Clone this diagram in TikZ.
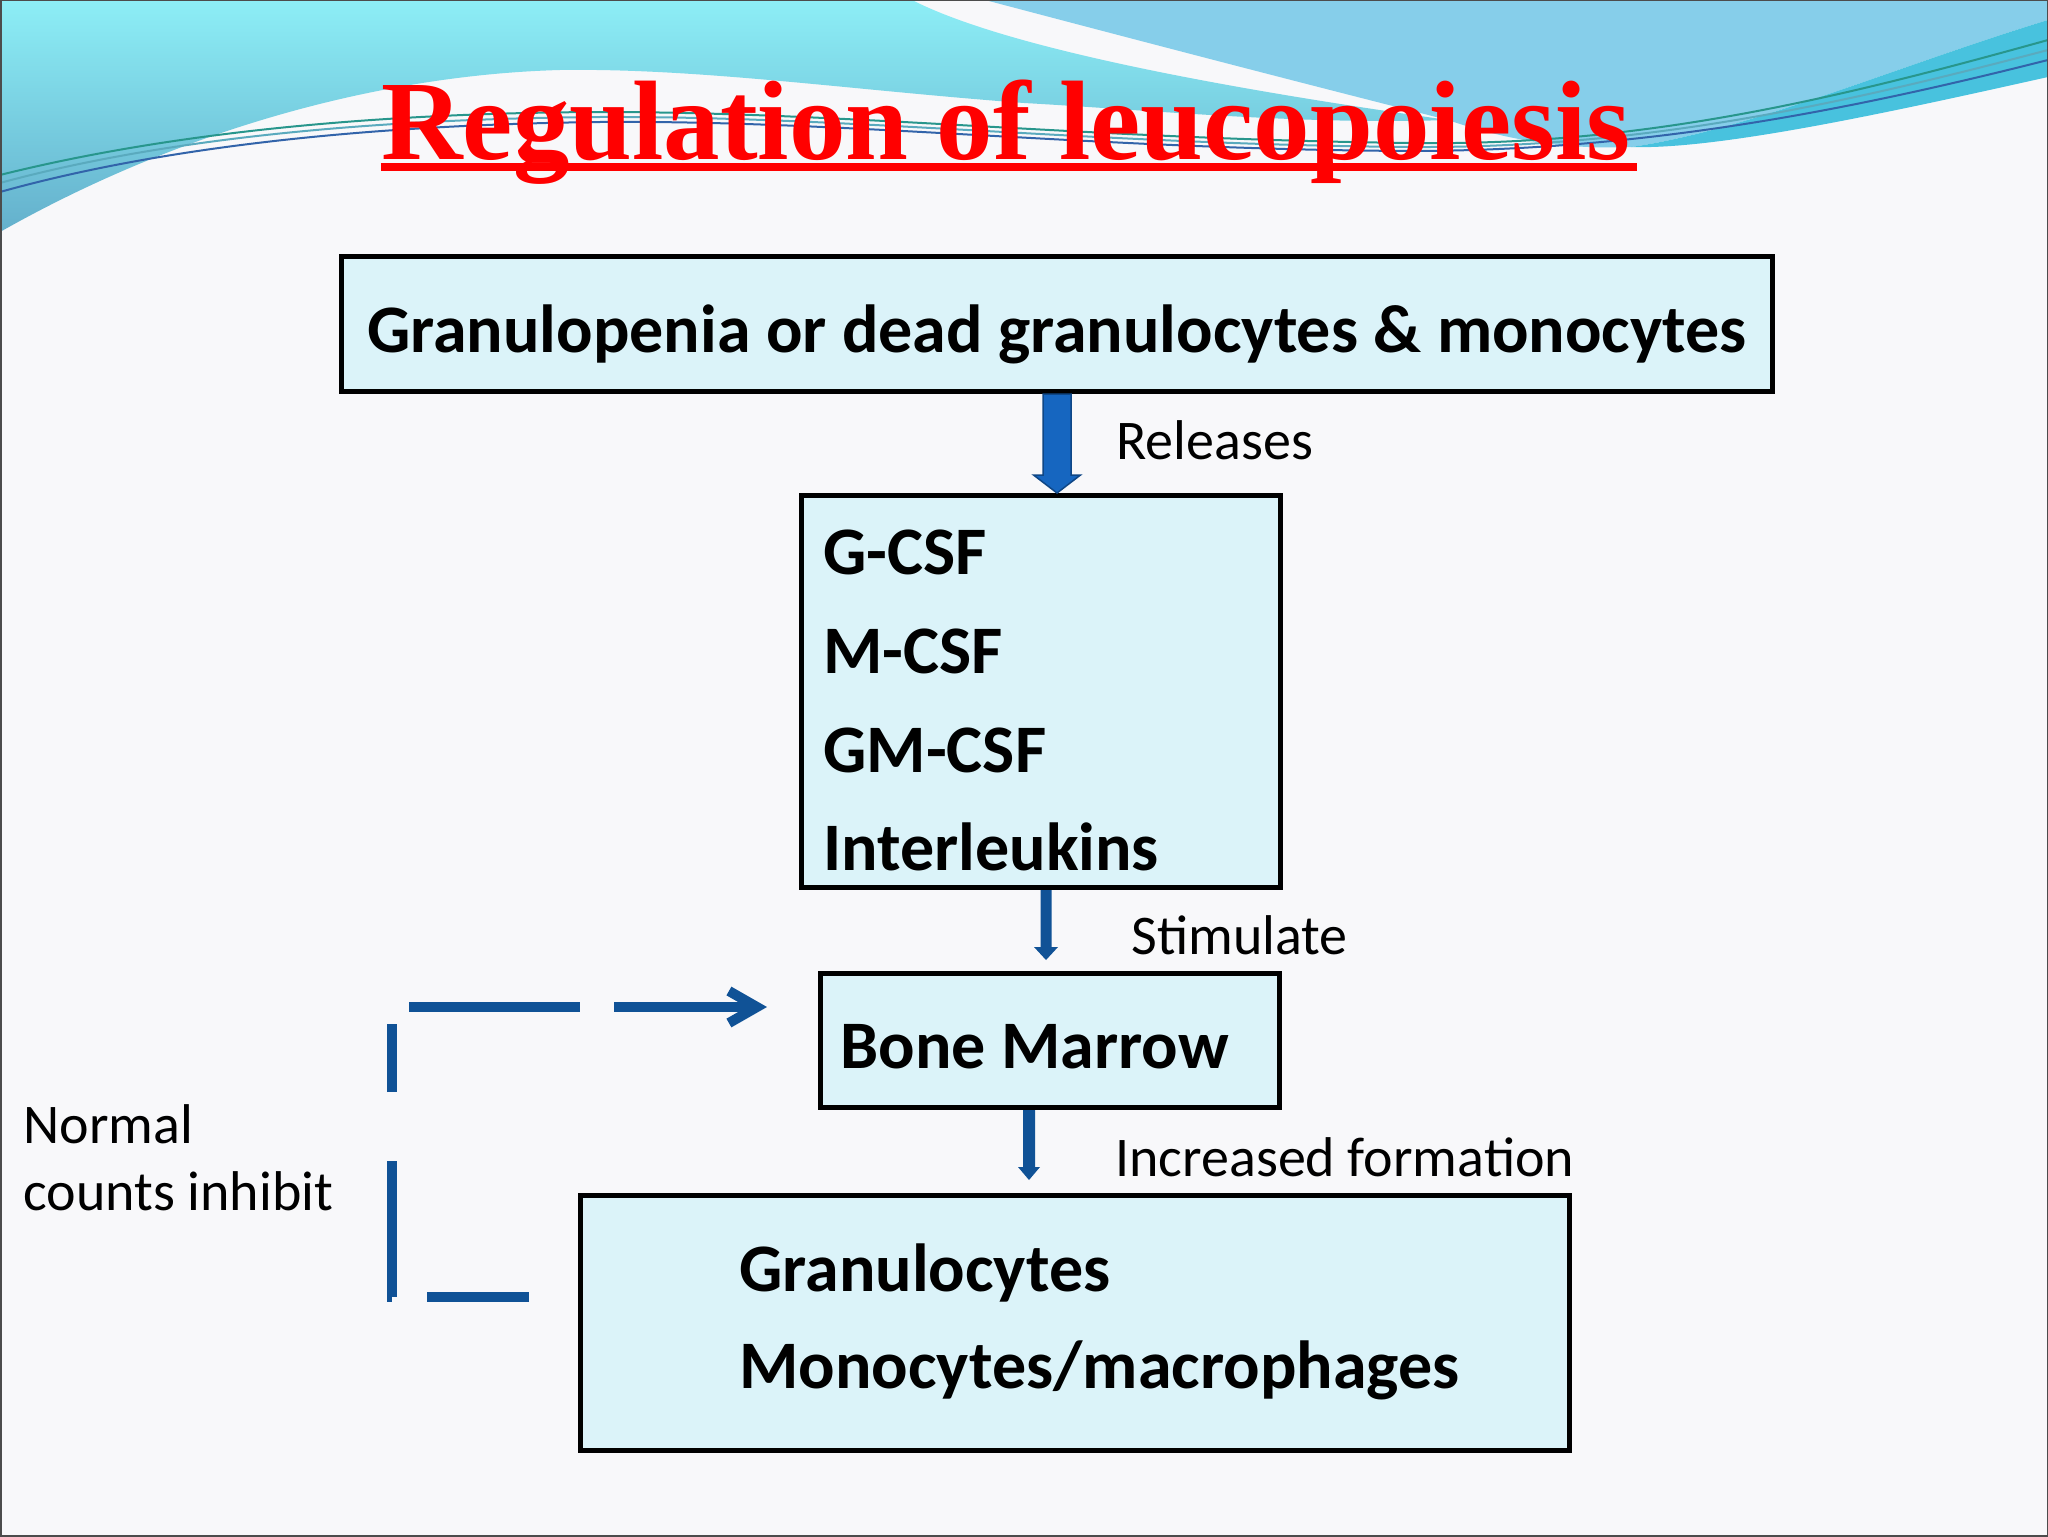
\documentclass[tikz,border=0pt]{standalone}
\usepackage{fontspec}
\setmainfont{Carlito}
\newfontfamily\titlefont{Liberation Serif}
\usetikzlibrary{arrows.meta,calc}
\definecolor{bgc}{RGB}{248,248,250}
\definecolor{cyantop}{RGB}{141,238,246}
\definecolor{cyanbot}{RGB}{100,176,204}
\definecolor{skyblue}{RGB}{134,206,234}
\definecolor{tealband}{RGB}{72,194,222}
\definecolor{boxfill}{RGB}{219,243,249}
\definecolor{relblue}{RGB}{22,102,192}
\definecolor{dblue}{RGB}{16,82,150}
\definecolor{titlered}{RGB}{255,0,0}
\definecolor{wline1}{RGB}{40,150,140}
\definecolor{wline2}{RGB}{50,100,170}
\definecolor{wline3}{RGB}{90,170,190}
\begin{document}
\begin{tikzpicture}[x=0.5pt,y=-0.5pt,
  box/.style={draw=black,line width=2.5pt,fill=boxfill,inner sep=0pt},
  boldtxt/.style={font=\fontsize{34}{40}\selectfont\bfseries,inner sep=0pt,anchor=base west},
  lbl/.style={font=\fontsize{28}{34}\selectfont,inner sep=0pt,anchor=base west},
  thinline/.style={line width=1pt},
]
\useasboundingbox (0,0) rectangle (2048,1536);
% background
\fill[bgc] (0,0) rectangle (2048,1536);
% banner
\shade[top color=cyantop,bottom color=cyanbot]
  (0,0) -- (912,0) .. controls (1000,45) and (1200,85) .. (1448,120)
  .. controls (1300,125) and (1150,110) .. (1024,103)
  .. controls (850,90) and (700,68) .. (560,70)
  .. controls (380,75) and (180,130) .. (0,232) -- cycle;
\fill[skyblue]
  (985,0) -- (2048,0) -- (2048,20) .. controls (1900,65) and (1750,130) .. (1631,147)
  .. controls (1560,150) and (1500,138) .. (1448,120)
  .. controls (1250,70) and (1080,25) .. (985,0) -- cycle;
\fill[tealband]
  (2048,20) .. controls (1900,65) and (1750,130) .. (1631,147)
  .. controls (1720,150) and (1900,110) .. (2048,77) -- cycle;
\draw[thinline,wline1] (0,175) .. controls (160,135) and (360,113) .. (600,112)
  .. controls (850,112) and (1100,140) .. (1416,143) .. controls (1650,146) and (1850,95) .. (2048,40);
\draw[thinline,wline2] (0,192) .. controls (150,150) and (350,125) .. (600,122)
  .. controls (850,120) and (1100,150) .. (1416,151) .. controls (1650,150) and (1850,110) .. (2048,60);
\draw[thinline,wline3] (0,183) .. controls (150,142) and (350,119) .. (600,117)
  .. controls (850,116) and (1100,145) .. (1416,147) .. controls (1650,148) and (1850,102) .. (2048,50);
% title
\node[font=\titlefont\fontsize{56.5}{60}\selectfont\bfseries,text=titlered,inner sep=0pt,anchor=base] (title) at (1006,159) {Regulation of leucopoiesis};
\draw[titlered,line width=4pt] ([yshift=-4pt]title.base west) -- ([yshift=-4pt,xshift=3pt]title.base east);
% boxes
\node[box,minimum width=715.5pt,minimum height=67.5pt] (cause) at (1057,324) {};
\node[box,minimum width=239.5pt,minimum height=196pt] (csf) at (1041,691.5) {};
\node[box,minimum width=229.5pt,minimum height=67pt] (bone) at (1050,1040.5) {};
\node[box,minimum width=494.5pt,minimum height=127.5pt] (bot) at (1075,1323) {};
% box texts
\node[boldtxt,anchor=base] (ctext) at (1057,352) {Granulopenia or dead granulocytes \& monocytes};
\node[boldtxt] (g1) at (823,574) {G-CSF};
\node[boldtxt] (g2) at (823,673) {M-CSF};
\node[boldtxt] (g3) at (823,772) {GM-CSF};
\node[boldtxt] (g4) at (823,870) {Interleukins};
\node[boldtxt] (bm) at (840,1068) {Bone Marrow};
\node[boldtxt] (gr) at (739,1291) {Granulocytes};
\node[boldtxt] (mo) at (739,1388) {Monocytes/macrophages};
% labels
\node[lbl] (rel) at (1116,459) {Releases};
\node[lbl] (stim) at (1131,954) {Stimulate};
\node[lbl] (incr) at (1115,1176) {Increased formation};
\node[lbl] (norm1) at (23,1143) {Normal};
\node[lbl] (norm2) at (23,1210) {counts inhibit};
% arrows
\filldraw[fill=relblue,draw=relblue!70!black,line width=0.75pt]
  let \p1=(cause.south), \p2=(csf.north) in
  (\x1-7pt,\y1) -- (\x1+7pt,\y1) -- (\x1+7pt,\y2+9pt) -- (\x1+11.75pt,\y2+9pt)
  -- (\x1,\y2) -- (\x1-11.75pt,\y2+9pt) -- (\x1-7pt,\y2+9pt) -- cycle;
\fill[dblue]
  let \p1=(csf.south), \p2=(bone.north) in
  (\x1-0.25pt,\y1) -- (\x1+5.25pt,\y1) -- (\x1+5.25pt,\y2+12pt) -- (\x1+8.5pt,\y2+12pt)
  -- (\x1+2.5pt,\y2+5.5pt) -- (\x1-3.5pt,\y2+12pt) -- (\x1-0.25pt,\y2+12pt) -- cycle;
\fill[dblue]
  let \p1=(bone.south), \p2=(bot.north) in
  (\x1-13.5pt,\y1) -- (\x1-7.5pt,\y1) -- (\x1-7.5pt,\y2+13pt) -- (\x1-5pt,\y2+13pt)
  -- (\x1-10.5pt,\y2+6.5pt) -- (\x1-16pt,\y2+13pt) -- (\x1-13.5pt,\y2+13pt) -- cycle;
% feedback
\coordinate (fb1) at (529,1297);
\coordinate (fb2) at (392,1297);
\coordinate (fb3) at (392,1007);
\coordinate (fb4) at (767,1007);
\draw[dblue,line width=5pt,
  dash pattern=on 51pt off 17.5pt on 68pt off 34.5pt on 34pt off 17pt on 85.5pt off 17pt on 100pt,
  -{Straight Barb[length=14pt,width=16pt,line cap=butt,line join=miter]}]
  (fb1) -- (fb2) -- (fb3) -- (fb4);
% frame
\draw[line width=1.5pt,black!70] (0,0) rectangle (2048,1536);
\end{tikzpicture}
\end{document}
